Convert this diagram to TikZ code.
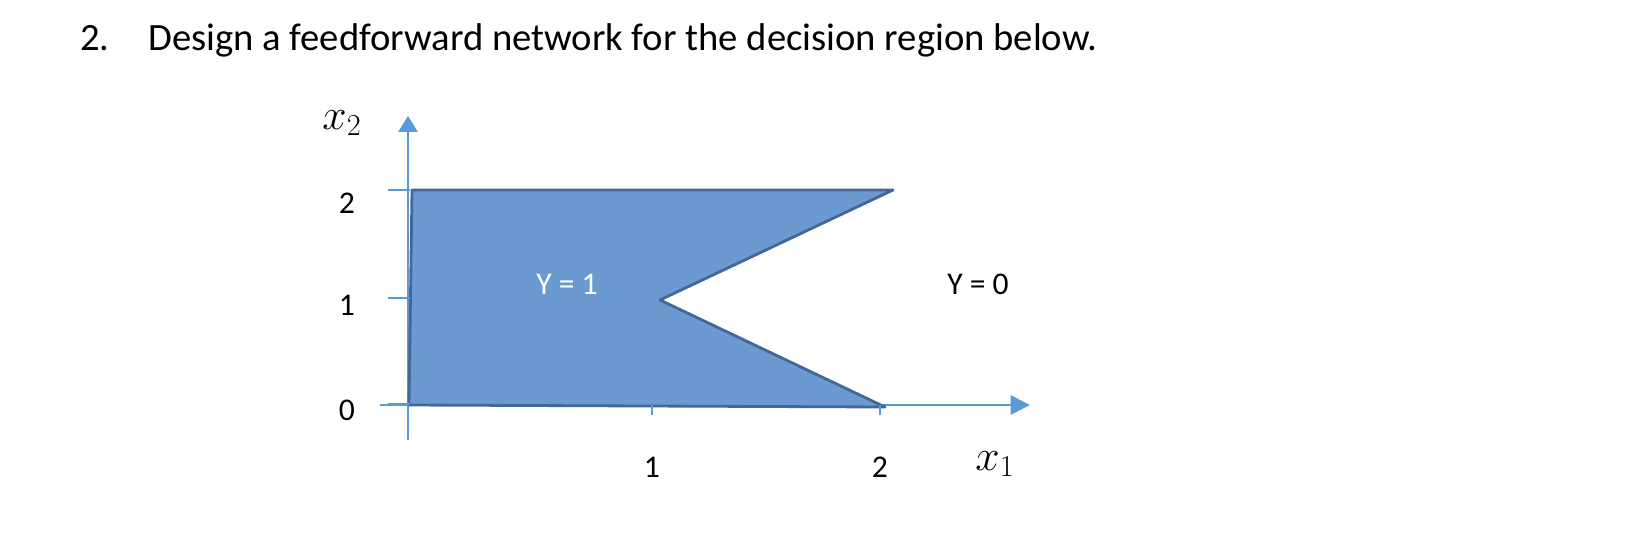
\documentclass[tikz,border=0pt]{standalone}
\usepackage{fontspec}
\setmainfont{Carlito}
\usetikzlibrary{arrows.meta}
\definecolor{axis}{HTML}{5B9BD5}
\definecolor{regfill}{HTML}{6A9AD0}
\definecolor{regedge}{HTML}{44679A}
\tikzset{px/.style={x=0.02cm,y=-0.02cm},
 lbl/.style={font=\fontsize{18}{21}\selectfont},
 ax/.style={draw=axis,line width=0.8pt}}
\begin{document}
\begin{tikzpicture}[px]
\useasboundingbox (0,0) rectangle (1634,558);
\node[anchor=base west,font=\fontsize{22}{26}\selectfont,inner sep=0] (num) at (80,50) {2.};
\node[anchor=base west,font=\fontsize{22}{26}\selectfont,inner sep=0] (title) at (148,50) {Design a feedforward network for the decision region below.};
% axes
\coordinate (yb) at (408,440); \coordinate (yt) at (408,116);
\coordinate (xl) at (380,405); \coordinate (xr) at (1030,405);
\draw[ax,-{Triangle[width=11pt,length=9pt]}] (yb) -- (yt);
\draw[ax,-{Triangle[width=11pt,length=11pt]}] (xl) -- (xr);
% polygon
\draw[fill=regfill,draw=regedge,line width=1.6pt,line join=round] (412,190) -- (893,190) -- (660,300) -- (885,407) -- (409,405) -- cycle;
% ticks
\foreach \y in {190,298,404} \draw[ax] (388,\y) -- (410,\y);
\foreach \x in {652,880} \draw[ax] (\x,405) -- (\x,415);
\node[lbl] (l2) at (347,203) {2};
\node[lbl] (l1) at (347,305) {1};
\node[lbl] (l0) at (347,410) {0};
\node[lbl] (b1) at (652,467) {1};
\node[lbl] (b2) at (880,467) {2};
\node[font=\fontsize{23}{26}\selectfont] (x2) at (342,123) {$x_2$};
\node[font=\fontsize{23}{26}\selectfont] (x1) at (995,464) {$x_1$};
\node[lbl,text=white] (y1) at (567,284) {Y = 1};
\node[lbl] (y0) at (978,284) {Y = 0};
\end{tikzpicture}
\end{document}
